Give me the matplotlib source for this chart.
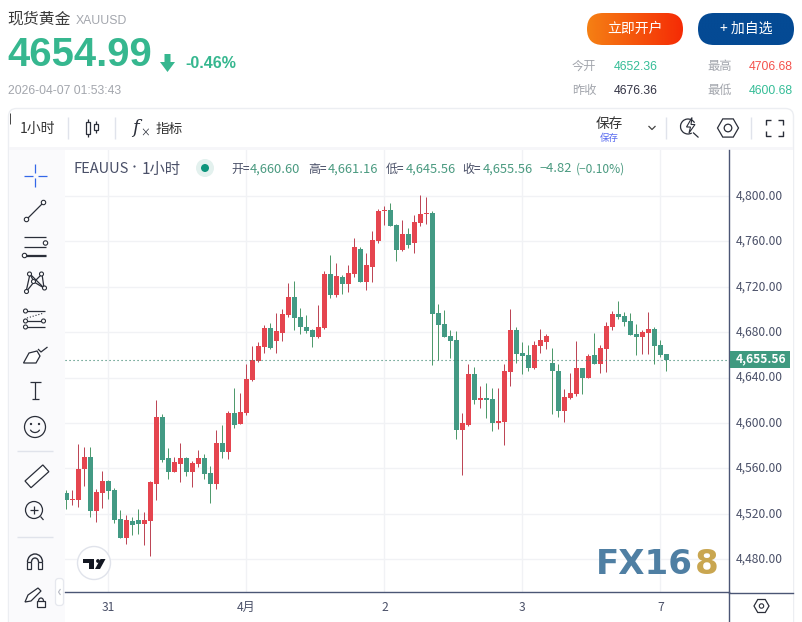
import numpy as np
import matplotlib
matplotlib.use("Agg")
import matplotlib.pyplot as plt
from matplotlib.patches import FancyBboxPatch, Circle, RegularPolygon, Rectangle, Polygon, Arc
from matplotlib.transforms import ScaledTranslation

FAM = ['Noto Sans CJK SC', 'DejaVu Sans']
plt.rcParams['font.family'] = FAM

opens = [4538.3,4532.2,4532.2,4559.5,4570.0,4522.5,4538.3,4548.9,4541.0,4515.4,
         4498.7,4513.7,4514.5,4511.0,4513.7,4546.3,4605.3,4569.2,4556.8,4563.9,
         4569.2,4556.8,4563.9,4569.2,4555.9,4546.3,4582.4,4574.5,4608.8,4599.1,
         4608.8,4637.9,4654.6,4667.0,4683.7,4672.2,4679.3,4695.2,4711.0,4693.4,
         4684.6,4681.9,4675.8,4683.7,4731.3,4712.8,4728.6,4722.5,4731.3,4753.3,
         4724.2,4737.4,4760.4,4786.8,4787.7,4774.4,4752.4,4766.5,4758.6,4776.2,
         4784.1,4785.0,4696.9,4687.2,4676.7,4673.1,4593.8,4598.2,4643.2,4620.3,
         4622.0,4621.1,4600.0,4600.9,4644.9,4681.9,4661.7,4659.9,4648.5,4667.8,
         4671.4,4652.9,4645.8,4610.6,4622.0,4625.5,4648.5,4639.6,4659.9,4652.0,
         4665.2,4684.6,4696.0,4694.3,4689.9,4678.4,4675.8,4679.3,4682.8,4668.7,
         4660.6]
highs = [4541.0,4541.0,4581.5,4578.9,4578.9,4541.9,4557.7,4549.8,4542.7,4523.4,
         4518.9,4517.2,4524.2,4521.6,4548.9,4620.3,4607.9,4578.0,4570.0,4582.4,
         4570.0,4566.5,4576.2,4572.7,4562.1,4593.8,4598.2,4610.6,4630.8,4626.4,
         4652.0,4667.8,4671.4,4686.3,4688.1,4696.9,4700.4,4723.3,4725.1,4701.3,
         4695.2,4682.8,4704.0,4733.9,4748.0,4741.0,4730.4,4739.2,4763.0,4755.1,
         4749.8,4769.2,4788.5,4791.2,4793.8,4775.3,4778.9,4771.8,4783.3,4800.9,
         4799.1,4786.8,4704.9,4699.6,4681.9,4681.1,4608.8,4652.0,4649.3,4632.6,
         4635.2,4630.8,4630.8,4652.0,4700.4,4684.6,4671.4,4668.7,4672.2,4682.8,
         4678.4,4666.1,4652.0,4630.0,4644.1,4672.2,4648.5,4660.8,4679.3,4668.7,
         4689.0,4698.7,4707.5,4697.8,4696.9,4687.2,4681.9,4697.8,4684.6,4673.1,
         4661.16]
lows = [4524.2,4527.8,4526.0,4544.5,4517.2,4512.8,4525.1,4533.0,4511.9,4498.7,
        4493.4,4501.3,4502.2,4492.5,4482.8,4532.2,4565.6,4550.7,4556.8,4548.0,
        4553.3,4543.6,4561.2,4550.7,4529.5,4541.9,4569.2,4568.3,4595.6,4599.1,
        4607.0,4637.0,4653.8,4661.7,4665.2,4661.7,4672.2,4693.4,4681.9,4678.4,
        4679.3,4667.0,4674.9,4682.8,4710.1,4711.0,4713.7,4715.4,4728.6,4724.2,
        4717.2,4724.2,4758.6,4774.4,4773.6,4742.7,4751.5,4754.2,4749.8,4773.6,
        4775.3,4651.1,4655.5,4675.8,4657.3,4585.9,4554.2,4597.4,4616.7,4613.2,
        4604.4,4593.0,4594.7,4580.6,4632.6,4652.9,4643.2,4645.8,4647.6,4661.7,
        4665.2,4607.9,4605.3,4600.9,4621.1,4623.8,4625.5,4639.6,4652.0,4644.1,
        4644.9,4681.9,4691.6,4685.5,4677.5,4659.9,4660.8,4660.8,4652.0,4658.2,
        4645.56]
closes = [4532.2,4533.0,4559.5,4570.0,4522.5,4539.2,4548.9,4540.1,4514.5,4498.7,
          4514.5,4510.1,4511.0,4514.5,4548.0,4605.3,4567.4,4556.8,4565.6,4569.2,
          4556.8,4564.8,4569.2,4555.1,4546.3,4582.4,4574.5,4608.8,4598.2,4609.7,
          4638.8,4655.5,4667.8,4683.7,4666.1,4681.1,4696.0,4711.0,4692.5,4684.6,
          4681.1,4675.8,4684.6,4731.3,4712.8,4729.5,4722.5,4732.2,4755.1,4724.2,
          4739.2,4761.2,4786.8,4787.7,4773.6,4752.4,4766.5,4756.8,4777.1,4784.1,
          4785.0,4696.0,4686.3,4675.8,4672.2,4593.8,4600.0,4643.2,4620.3,4622.0,
          4620.3,4600.0,4601.8,4645.8,4681.9,4660.8,4659.0,4648.5,4668.7,4673.1,
          4676.7,4645.8,4610.6,4622.9,4626.4,4648.5,4639.6,4659.0,4652.0,4666.1,
          4685.5,4696.0,4693.4,4689.0,4677.5,4675.8,4680.2,4682.8,4667.8,4659.9,
          4655.56]
price_ticks = [4480, 4520, 4560, 4600, 4640, 4680, 4720, 4760, 4800]
time_tick_index = [7, 30, 53, 76, 99]
time_tick_labels = ['31', '4月', '2', '3', '7']

W, H = 803, 622
fig = plt.figure(figsize=(W/100, H/100), dpi=100, facecolor='white')

def add_px_axes(z):
    a = fig.add_axes([0, 0, 1, 1], zorder=z)
    a.set_xlim(0, W); a.set_ylim(H, 0); a.axis('off'); a.patch.set_alpha(0)
    return a

bg = add_px_axes(0)
top = add_px_axes(2)

# ---- page frame
bg.add_patch(FancyBboxPatch((8.5, 108.5), 785, 530, boxstyle='round,pad=0,rounding_size=8',
                            fc='white', ec='#eceef2', lw=1))
bg.add_patch(Rectangle((9, 147), 784, 475, fc='#f6f6f9', ec='none'))
bg.add_patch(Rectangle((9, 150), 56, 472, fc='#fafafc', ec='none'))
bg.add_patch(Rectangle((65, 150), 728, 472, fc='white', ec='none'))

# ---- chart
L, R, T, B = 65, 729, 150, 592
ax = fig.add_axes([L/W, 1-B/H, (R-L)/W, (B-T)/H], zorder=1)
PX_PER_UNIT = 1.135
ax.set_ylim(4800-(B-196)/PX_PER_UNIT, 4800+(196-T)/PX_PER_UNIT)
ax.set_xlim((L-66.4)/6, (R-66.4)/6)
UP, DN, UPW, DNW = '#e5454f', '#439a84', '#bd4656', '#4f9a6c'
GRID, AXC, TXT = '#f1f2f5', '#4b5675', '#4a5068'
x = np.arange(len(opens))
o, h, l, c = map(np.array, (opens, highs, lows, closes))
isup = c >= o
ax.vlines(x, l, h, colors=[UPW if u else DNW for u in isup], lw=0.72, zorder=3)
ax.bar(x, np.maximum(np.abs(c-o), 0.8), bottom=np.minimum(o, c), width=5/6,
       color=[UP if u else DN for u in isup], lw=0, zorder=4)
ax.axhline(closes[-1], color='#2f7f68', lw=0.8, ls=(0, (1, 2.6)), zorder=5)
ax.set_yticks(price_ticks)
ax.set_yticklabels([f'{v:,.2f}' for v in price_ticks])
ax.yaxis.tick_right()
ax.set_xticks(time_tick_index)
ax.set_xticklabels(time_tick_labels)
ax.tick_params(axis='both', length=0, colors=TXT, labelsize=8.7)
ax.tick_params(axis='y', pad=5)
ax.tick_params(axis='x', pad=6.5)
shift_up = ScaledTranslation(0, 1.5/100, fig.dpi_scale_trans)
for lab in ax.get_yticklabels():
    lab.set_transform(lab.get_transform() + shift_up)
ax.grid(True, color=GRID, lw=1, zorder=0)
ax.set_axisbelow(True)
for s in ('top', 'left'):
    ax.spines[s].set_visible(False)
for s in ('right', 'bottom'):
    ax.spines[s].set_color(AXC); ax.spines[s].set_linewidth(1)
ytrans = ax.get_yaxis_transform()
ax.add_patch(Rectangle((1.0015, closes[-1]-8.5/PX_PER_UNIT), 60/(R-L), 17/PX_PER_UNIT, transform=ytrans,
                       fc='#3f9a80', ec='none', clip_on=False, zorder=6))
ax.text(1+(761-729)/(R-L), closes[-1]+0.6, f'{closes[-1]:,.2f}', transform=ytrans,
        color='white', fontsize=8.7, fontweight='bold', va='center', ha='center', clip_on=False, zorder=7)

# extensions of the axis lines past the plot frame
top.plot([729.5, 729.5], [592, 622], color=AXC, lw=1)
top.plot([729, 793], [592.5, 592.5], color=AXC, lw=1)

def t(x_, y_, s, size=9, color='#333', ha='left', va='center', weight='normal', family=None, **kw):
    return top.text(x_, y_, s, fontsize=size, color=color, ha=ha, va=va, fontweight=weight,
                    family=family or FAM, **kw)

def ln(xs, ys, color='#2a2e39', lw=0.9, **kw):
    top.plot(xs, ys, color=color, lw=lw, solid_capstyle='butt', **kw)

def dot(x_, y_, r=2.2, color='#2a2e39', lw=0.8):
    top.add_patch(Circle((x_, y_), r, fc='white', ec=color, lw=lw, zorder=5))

# ---- header
LIB = ['Liberation Sans']
GREEN = '#36b78f'
t(7.5, 19, '现货黄金', 11.4, '#3a3a3a')
t(76, 20.5, 'XAUUSD', 8.8, '#a3a6ad', family=LIB)
t(7, 55, '4654.99', 28.8, GREEN, weight='bold', family=LIB)
top.add_patch(Polygon([[164.5, 54], [170.5, 54], [170.5, 62], [175, 62], [167.5, 72], [160, 62], [164.5, 62]],
                      fc=GREEN, ec='none'))
t(185, 64, '-0.46%', 11.5, GREEN, weight='bold', family=LIB)
t(8, 90.5, '2026-04-07 01:53:43', 8.7, '#a3a6ad', family=LIB)

# buttons
def gradient_button(x0, x1, y0, y1, c0, c1):
    p = FancyBboxPatch((x0, y0), x1-x0, y1-y0, boxstyle=f'round,pad=0,rounding_size={(y1-y0)/2}',
                       fc='none', ec='none')
    top.add_patch(p)
    g = np.linspace(0, 1, 128)[None, :, None]
    a0, a1 = (np.array(matplotlib.colors.to_rgb(k)) for k in (c0, c1))
    im = top.imshow(a0 + (a1-a0)*g, extent=(x0, x1, y1, y0), aspect='auto', zorder=1)
    im.set_clip_path(p)
    top.set_xlim(0, W); top.set_ylim(H, 0)

gradient_button(587, 683, 13, 45, '#f58014', '#f52b05')
gradient_button(698, 794, 13, 45, '#044a94', '#044a94')
t(635, 29, '立即开户', 10, 'white', ha='center')
t(746, 29, '+ 加自选', 10, 'white', ha='center')

# stats
for yy, a, av, avc, b, bv, bvc in [(66.5, '今开', '4652.36', '#35bd97', '最高', '4706.68', '#f4524d'),
                                   (90.5, '昨收', '4676.36', '#333344', '最低', '4600.68', '#35bd97')]:
    t(572, yy, a, 8.8, '#a3a6ad')
    t(614, yy, av, 8.8, avc, family=LIB)
    t(707, yy, b, 8.8, '#a3a6ad')
    t(749, yy, bv, 8.8, bvc, family=LIB)

# ---- top toolbar
ICON = '#2a2e39'
t(20, 128.5, '1小时', 10, '#333')
ln([10, 10], [113, 124], color='#444', lw=0.7)
for xs in (68.5, 115.5, 666.5, 751.5):
    ln([xs, xs], [117, 139], color='#e0e3eb', lw=1)
for cx, y0, y1, v0, v1 in [(88.5, 119, 137, 122, 134), (96.5, 121, 133, 124, 130)]:
    ln([cx, cx], [y0, y1], color=ICON)
    top.add_patch(Rectangle((cx-2, v0), 4, v1-v0, fc='white', ec=ICON, lw=0.9, zorder=4))
t(132, 128, 'f', 13, ICON, family=['DejaVu Serif'], style='italic')
t(140.5, 133, '×', 7, ICON)
t(156, 128.5, '指标', 9.8, '#333')
t(609, 124, '保存', 9.8, '#333', ha='center')
t(609, 138, '保存', 6.8, '#5a6cf0', ha='center')
ln([648.5, 652, 655.5], [126, 129.5, 126], color='#444')
# lightning magnifier
top.add_patch(Arc((688, 126.5), 15, 15, theta1=60, theta2=330, ec=ICON, lw=0.9))
top.add_patch(Polygon([[692, 117.5], [686.5, 127], [690.5, 127], [689, 133], [695, 124.5], [691, 124.5]],
                      fc='white', ec=ICON, lw=0.8, zorder=4))
ln([693, 698.5], [132.5, 137.5], color=ICON)
# settings
top.add_patch(RegularPolygon((728, 128), 6, radius=10.5, orientation=np.pi/6*1, fc='white', ec=ICON, lw=0.9))
top.add_patch(Circle((728, 128), 3.8, fc='white', ec=ICON, lw=0.9, zorder=4))
# fullscreen
for cx, cy, dx, dy in [(766, 119.5, 1, 1), (783, 119.5, -1, 1), (766, 135.5, 1, -1), (783, 135.5, -1, -1)]:
    ln([cx+dx*5, cx, cx], [cy, cy, cy+dy*5], color=ICON, lw=1)

# ---- legend line
t(74, 169, 'FEAUUS', 10.5, TXT)
top.add_patch(Circle((134.5, 166.5), 1.1, fc=TXT, ec='none'))
t(141.5, 169, '1小时', 11, TXT)
top.add_patch(Circle((205, 168), 9, fc='#e3f1ee', ec='none'))
top.add_patch(Circle((205, 168), 4, fc='#0d957c', ec='none'))
VAL = '#4a9a80'
for xk, k, xv, v in [(231, '开=', 250, '4,660.60'), (308, '高=', 328, '4,661.16'),
                     (386, '低=', 406, '4,645.56'), (462, '收=', 483, '4,655.56')]:
    t(xk, 169, k, 8.6, TXT)
    t(xv, 169, v, 9.3, VAL)
t(540, 169, '−4.82', 9.3, VAL)
t(576, 169, '(−0.10%)', 8.6, VAL)

# ---- left toolbar
B1 = '#3367e8'
ln([24, 33], [175.5, 175.5], color=B1); ln([38, 47], [175.5, 175.5], color=B1)
ln([35.5, 35.5], [164, 173], color=B1); ln([35.5, 35.5], [178, 187], color=B1)
ln([26.5, 43.5], [219.5, 202.5]); dot(26.5, 219.5); dot(43.5, 202.5)
for yy in (237, 247, 256):
    ln([24, 46], [yy, yy])
ln([24, 46], [255, 255]); dot(45.5, 243); dot(24.5, 255.5)
ln([26, 30, 44], [292, 274, 288]); ln([30, 34, 42, 44], [274, 282, 274, 288]); ln([26, 34, 44], [292, 282, 288])
for a, b in [(26.5, 291.5), (29.5, 274), (33.5, 281.5), (41.5, 274), (44.5, 288)]:
    dot(a, b, 2)
for yy in (311, 327):
    ln([25, 45], [yy, yy])
ln([25, 43], [321, 321]); top.plot([27, 44], [318, 313], color=ICON, lw=0.8, ls=':')
for a, b in [(25.5, 311), (25.5, 321), (25.5, 327), (43.5, 321)]:
    dot(a, b, 2)
top.add_patch(Polygon([[23.5, 363], [29, 353], [37, 351], [40, 356], [36, 363]], fc='white', ec=ICON, lw=0.9))
ln([38, 41, 47.5], [349, 352, 347], lw=0.9)
ln([30, 41], [382, 382]); ln([35.5, 35.5], [382, 399]); ln([32, 39], [399, 399])
top.add_patch(Circle((35, 427), 10.5, fc='none', ec=ICON, lw=0.9))
top.add_patch(Arc((35, 428), 10, 9, theta1=20, theta2=160, ec=ICON, lw=0.9))
dot(31, 424, 0.6); dot(39, 424, 0.6)
ln([17, 53], [451, 451], color='#e0e3eb', lw=1)
top.add_patch(Rectangle((25, 481), 24, 9, angle=-42, fc='white', ec=ICON, lw=0.9))
top.add_patch(Circle((34, 510), 8.5, fc='none', ec=ICON, lw=0.9))
ln([40.5, 43.5], [516.5, 520]); ln([30, 38], [510, 510]); ln([34, 34], [506, 514])
ln([17, 53], [537, 537], color='#e0e3eb', lw=1)
top.add_patch(Arc((35, 562), 15, 16, theta1=180, theta2=360, ec=ICON, lw=1))
top.add_patch(Arc((35, 562), 7, 8, theta1=180, theta2=360, ec=ICON, lw=1))
top.add_patch(Rectangle((27.5, 562), 4, 7, fc='white', ec=ICON, lw=0.9))
top.add_patch(Rectangle((38.5, 562), 4, 7, fc='white', ec=ICON, lw=0.9))
top.add_patch(Polygon([[25, 602], [28, 595], [38, 588], [41, 591], [31, 601]], fc='white', ec=ICON, lw=0.9))
top.add_patch(Rectangle((37, 601), 8, 6, fc='white', ec=ICON, lw=0.9))
top.add_patch(Arc((41, 601), 5, 6, theta1=180, theta2=360, ec=ICON, lw=0.9))
top.add_patch(FancyBboxPatch((55.5, 578.5), 8, 27, boxstyle='round,pad=0,rounding_size=3',
                             fc='white', ec='#e6e8ee', lw=0.9))
ln([60.5, 58.5, 60.5], [589, 592, 595], color='#b5b8c2', lw=0.8)

# ---- TradingView badge
top.add_patch(Circle((94, 563), 16.5, fc='white', ec='#e0e3eb', lw=1))
top.add_patch(Polygon([[83, 559], [94, 559], [94, 569], [89, 569], [89, 563], [83, 563]], fc='#131722', ec='none'))
top.add_patch(Circle((98, 561), 1.9, fc='#131722', ec='none'))
top.add_patch(Polygon([[100.5, 559], [105.5, 559], [100, 569], [95, 569]], fc='#131722', ec='none'))

# ---- watermark
DJV = ['DejaVu Sans']
t(596, 565, 'FX16', 24.5, '#4f7fa3', weight='bold', family=DJV)
t(695, 565, '8', 24.5, '#c9a650', weight='bold', family=DJV)

# bottom-right settings
top.add_patch(RegularPolygon((761.5, 606), 6, radius=7.5, orientation=np.pi/6, fc='white', ec=ICON, lw=0.9))
top.add_patch(Circle((761.5, 606), 2.2, fc='white', ec=ICON, lw=0.8, zorder=4))

fig.savefig('out.png', dpi=100)
